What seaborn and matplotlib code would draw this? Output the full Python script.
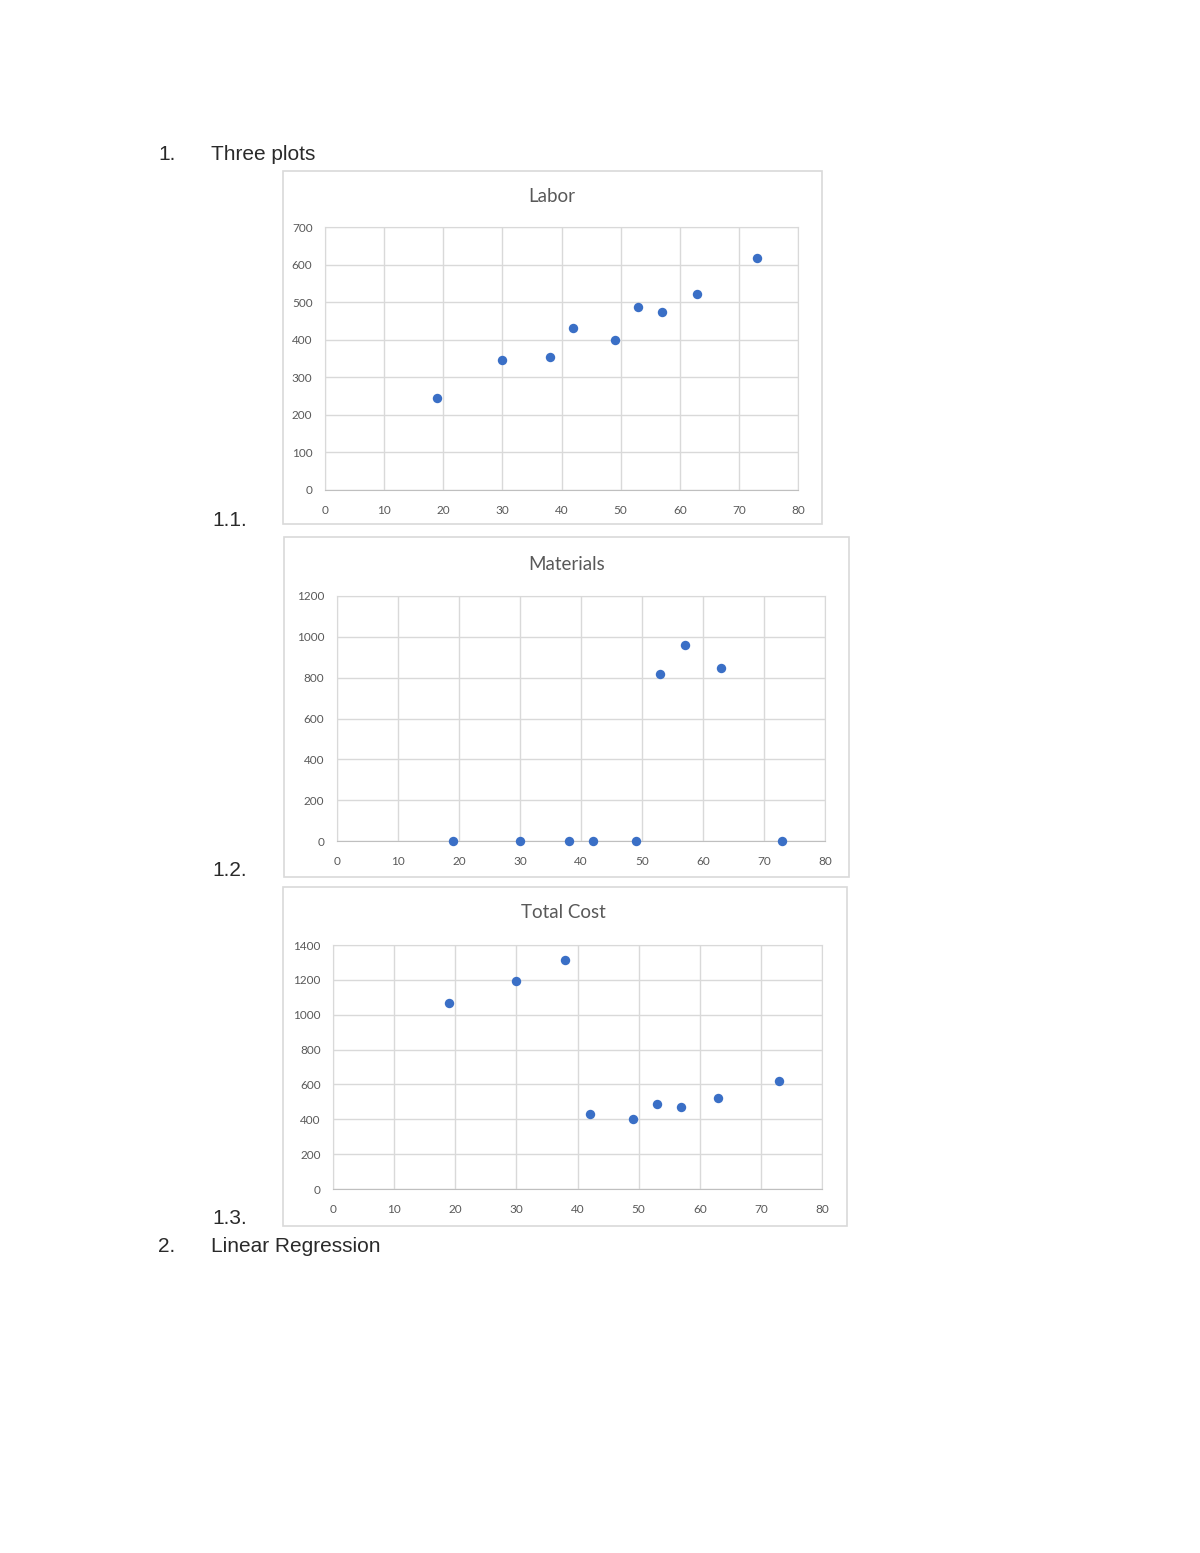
import matplotlib
matplotlib.use("Agg")
import matplotlib.pyplot as plt
from matplotlib.patches import Rectangle
import seaborn as sns
import pandas as pd

# values
units = [19, 30, 38, 42, 49, 53, 57, 63, 73]
labor = [245, 347, 355, 431, 399, 487, 473, 521, 617]
materials = [0, 0, 0, 0, 0, 820, 960, 845, 0]
total_cost = [1068, 1195, 1313, 431, 399, 487, 473, 521, 617]

x_ticks = [0, 10, 20, 30, 40, 50, 60, 70, 80]
labor_ticks = [0, 100, 200, 300, 400, 500, 600, 700]
materials_ticks = [0, 200, 400, 600, 800, 1000, 1200]
total_ticks = [0, 200, 400, 600, 800, 1000, 1200, 1400]

W, H = 1200, 1553
DOT = "#3a6fc6"
GRID = "#d9d9d9"
TICK = "#595959"

sns.set_style("white")
plt.rcParams["font.family"] = ["Lato", "DejaVu Sans"]

fig = plt.figure(figsize=(W / 100, H / 100), dpi=100)
fig.patch.set_facecolor("white")


def px_axes(left, top, right, bottom):
    return fig.add_axes([left / W, 1 - bottom / H, (right - left) / W, (bottom - top) / H])


def frame(left, top, right, bottom):
    fig.patches.append(Rectangle((left / W, 1 - bottom / H), (right - left) / W, (bottom - top) / H,
                                 transform=fig.transFigure, fill=False, edgecolor=GRID, linewidth=1.2))


def chart(box, area, title_pos, title, values, yticks):
    frame(*box)
    ax = px_axes(*area)
    df = pd.DataFrame({"units": units, "value": values})
    sns.scatterplot(data=df, x="units", y="value", ax=ax, color=DOT, s=46,
                    edgecolor=DOT, linewidth=0, zorder=3, clip_on=False)
    ax.set_xlim(0, 80)
    ax.set_ylim(yticks[0], yticks[-1])
    ax.set_xticks(x_ticks)
    ax.set_yticks(yticks)
    ax.grid(True, color=GRID, linewidth=1)
    ax.set_axisbelow(True)
    for side in ["top", "right", "left"]:
        ax.spines[side].set_color(GRID)
    ax.spines["bottom"].set_color("#bfbfbf")
    ax.tick_params(length=0, labelsize=8.5, labelcolor=TICK)
    ax.tick_params(axis="x", pad=11)
    ax.tick_params(axis="y", pad=9)
    ax.set_xlabel("")
    ax.set_ylabel("")
    fig.text(title_pos[0] / W, 1 - title_pos[1] / H, title, ha="center", va="center",
             fontsize=13.5, color="#595959")


chart((283, 171, 822, 524), (325, 227, 798, 490), (552, 196), "Labor", labor, labor_ticks)
chart((284, 537, 849, 877), (337, 596, 825, 841), (567, 564), "Materials", materials, materials_ticks)
chart((283, 887, 847, 1226), (333, 945, 822, 1189), (563, 913), "Total Cost", total_cost, total_ticks)

doc = dict(fontsize=15, color="#2a2a2a", va="center", family=["Liberation Sans", "DejaVu Sans"])
fig.text(158 / W, 1 - 154 / H, "1.", **doc)
fig.text(211 / W, 1 - 154 / H, "Three plots", **doc)
fig.text(212 / W, 1 - 520 / H, "1.1.", **doc)
fig.text(212 / W, 1 - 870 / H, "1.2.", **doc)
fig.text(212 / W, 1 - 1219 / H, "1.3.", **doc)
fig.text(158 / W, 1 - 1247 / H, "2.", **doc)
fig.text(211 / W, 1 - 1247 / H, "Linear Regression", **doc)

fig.savefig("out.png", dpi=100, facecolor="white")
